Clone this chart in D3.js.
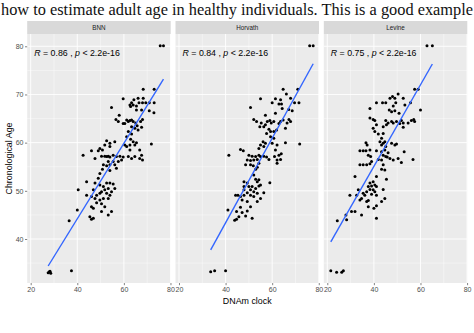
<!DOCTYPE html>
<html>
<head>
<meta charset="utf-8">
<script src="https://cdn.jsdelivr.net/npm/d3@7"></script>
<style>
  body { margin: 0; background: #fff; }
  svg { display: block; }
</style>
</head>
<body>
<div class="plot"></div>
<script>
// panel names and correlation labels
const panels = ["BNN", "Horvath", "Levine"];
const rValues = ["0.86", "0.84", "0.75"];
const pLabel = "2.2e-16";
const xTicks = [20, 40, 60, 80];
const xMinor = [30, 50, 70];
const yTicks = [40, 50, 60, 70, 80];
const yMinor = [35, 45, 55, 65, 75];

// [DNAm clock, chronological age]
const bnnPoints = [
  [68.3,71.1],[73.0,71.1],[66.1,69.2],[68.3,69.2],[64.3,68.9],[63.3,68.3],[66.5,68.3],[68.0,68.3],
  [69.4,68.3],[70.9,68.3],[62.6,67.8],[64.0,67.8],[65.4,67.6],[62.9,67.5],[73.0,68.3],[59.7,69.1],
  [54.7,67.3],[65.4,66.8],[67.6,66.8],[70.9,66.6],[72.9,66.2],[58.0,65.7],[56.6,64.8],[57.6,64.4],
  [68.0,64.8],[61.2,64.7],[61.9,64.4],[62.6,64.6],[63.3,64.7],[64.0,64.4],[65.1,64.1],[67.2,64.4],
  [65.7,63.5],[63.3,63.3],[59.7,64.0],[60.4,64.0],[64.7,63.0],[66.1,62.6],[67.6,63.2],[61.9,62.3],
  [63.3,61.8],[61.2,61.2],[62.9,60.7],[64.0,60.2],[65.4,60.0],[60.4,59.5],[62.6,59.5],[64.7,59.5],
  [66.8,58.5],[71.8,59.7],[67.6,57.4],[68.0,56.4],[62.6,58.5],[61.2,59.2],[56.1,60.2],[54.0,59.9],
  [52.6,60.4],[51.8,59.5],[54.0,59.2],[49.7,58.8],[50.8,58.5],[46.1,58.3],[49.0,58.3],[42.5,57.4],
  [47.6,56.7],[50.4,57.2],[51.8,57.2],[52.6,57.1],[53.3,57.2],[54.0,57.0],[55.4,57.4],[56.8,57.1],
  [58.3,57.2],[59.7,57.0],[61.9,57.1],[63.3,56.7],[64.7,57.1],[66.8,56.7],[53.3,56.1],[55.4,56.1],
  [57.6,56.1],[59.0,56.4],[51.2,55.4],[52.6,55.2],[54.0,55.4],[56.1,55.4],[56.8,54.7],[50.8,54.5],
  [54.0,54.2],[49.7,53.6],[49.0,52.6],[44.0,51.9],[47.6,51.6],[49.7,51.2],[51.2,50.9],[52.6,51.6],
  [54.0,51.6],[55.4,51.4],[56.1,50.5],[53.3,50.5],[51.8,50.2],[50.4,49.8],[54.7,49.8],[52.6,49.5],
  [49.7,49.5],[48.3,49.1],[46.9,50.2],[40.4,50.2],[44.0,49.1],[46.1,48.8],[47.6,48.4],[51.2,48.4],
  [53.3,48.4],[54.0,49.1],[49.7,48.1],[48.3,47.5],[46.1,46.7],[50.4,47.3],[51.8,46.7],[46.9,46.4],
  [40.0,46.0],[50.4,45.7],[54.7,45.7],[45.4,44.6],[46.1,44.1],[46.9,44.3],[53.3,45.0],[36.5,43.8],
  [75.6,80.1],[77.0,80.1],[27.5,33.0],[28.0,33.2],[28.6,32.9],[28.3,33.3],[37.5,33.4]
];

const horvathPoints = [
  [64.7,71.1],[66.1,70.1],[71.0,71.1],[67.9,69.2],[69.6,68.3],[71.5,68.3],[55.0,69.1],[61.4,69.1],
  [63.6,68.9],[60.0,68.3],[62.9,68.0],[64.0,68.0],[50.7,67.3],[64.3,67.1],[67.1,66.9],[68.6,66.6],
  [52.1,64.8],[53.3,64.4],[55.3,64.1],[57.1,65.7],[61.4,66.1],[57.9,64.4],[59.0,64.6],[59.6,64.1],
  [60.7,64.4],[57.1,63.7],[54.7,63.3],[56.4,63.3],[62.9,64.0],[63.6,64.4],[64.7,64.7],[67.2,64.8],
  [67.9,64.4],[66.4,64.1],[58.6,62.8],[59.3,62.3],[60.7,62.3],[61.9,62.6],[65.7,63.0],[57.6,61.9],
  [59.3,61.2],[60.7,60.9],[56.1,60.2],[57.1,59.9],[55.0,59.5],[56.4,59.2],[54.3,58.8],[60.0,59.9],
  [62.1,59.5],[65.7,60.0],[71.8,59.7],[46.4,58.6],[47.6,58.3],[41.4,57.4],[50.0,57.4],[51.4,57.2],
  [52.9,57.1],[54.3,57.4],[55.0,57.1],[56.4,57.2],[57.6,57.0],[58.6,56.5],[61.4,58.5],[62.9,57.4],
  [63.9,57.7],[61.0,57.1],[62.1,56.4],[49.3,56.4],[50.7,56.3],[52.1,56.4],[53.6,56.5],[48.6,55.4],
  [50.7,55.4],[51.9,55.2],[54.3,55.7],[53.6,54.9],[52.9,54.5],[63.6,56.5],[62.1,55.7],[52.1,53.3],
  [47.9,51.9],[49.3,51.6],[52.9,52.4],[53.6,51.9],[54.3,52.3],[59.0,51.7],[47.9,50.9],[50.0,50.9],
  [51.4,50.9],[52.9,50.5],[54.3,51.0],[55.0,51.2],[50.7,50.2],[52.1,49.8],[53.6,49.5],[47.9,50.2],
  [49.3,49.6],[56.4,49.6],[44.3,49.1],[45.3,49.1],[46.4,48.8],[47.9,49.1],[50.7,49.1],[52.1,48.8],
  [55.0,48.4],[47.1,48.1],[49.3,47.8],[53.6,47.8],[50.7,46.7],[46.4,46.6],[41.0,46.0],[44.7,45.7],
  [47.1,45.5],[49.3,45.8],[45.7,44.6],[48.6,44.8],[51.4,44.3],[43.9,43.9],[44.7,44.1],
  [76.1,80.1],[77.6,80.1],[33.6,33.2],[35.3,33.4],[40.0,33.4]
];

const levinePoints = [
  [57.5,71.1],[59.0,71.1],[50.4,70.1],[48.0,69.6],[49.0,69.2],[46.9,69.2],[52.6,69.2],[53.3,67.8],
  [55.7,68.3],[49.4,68.3],[48.3,67.6],[41.1,68.3],[43.7,68.3],[45.1,68.3],[60.0,66.8],[38.3,67.1],
  [46.6,66.8],[47.6,66.4],[49.0,66.6],[50.8,66.1],[39.7,64.8],[38.3,65.1],[40.4,64.6],[45.1,64.6],
  [46.1,64.1],[47.6,64.4],[48.3,64.1],[49.7,64.4],[51.8,64.6],[51.1,64.0],[52.6,64.1],[54.7,64.1],
  [56.1,64.6],[57.5,64.4],[57.1,64.8],[41.1,63.7],[39.7,63.0],[44.0,63.3],[45.4,63.7],[52.6,63.2],
  [40.4,62.3],[41.9,61.8],[44.0,61.9],[43.3,60.9],[42.6,60.2],[43.3,59.5],[44.0,59.9],[44.7,60.2],
  [36.6,60.0],[37.1,59.5],[45.1,59.2],[47.6,59.9],[49.0,59.5],[49.7,59.7],[34.0,58.3],[35.4,58.3],
  [36.6,58.3],[38.3,58.5],[41.1,58.3],[43.3,58.1],[44.7,58.5],[46.1,57.9],[37.6,57.4],[38.6,57.1],
  [44.0,57.4],[45.1,57.1],[45.7,57.0],[46.9,56.7],[48.3,56.4],[50.4,56.7],[53.0,58.1],[56.8,56.5],
  [51.8,55.9],[41.9,56.5],[43.3,56.4],[39.0,56.1],[34.0,55.4],[35.4,55.4],[36.9,55.4],[38.3,55.6],
  [44.0,55.4],[43.3,54.5],[44.7,54.3],[31.9,53.0],[41.1,53.0],[39.7,51.9],[38.3,51.6],[39.0,51.0],
  [40.4,51.2],[41.1,50.9],[37.6,50.9],[38.3,50.3],[39.7,50.2],[40.4,49.8],[36.9,49.8],[35.4,49.5],
  [36.1,49.1],[39.0,49.3],[41.1,49.1],[44.0,50.3],[45.4,52.4],[33.3,50.2],[32.6,49.1],[34.7,48.4],
  [34.0,48.1],[36.9,47.8],[37.6,48.0],[29.7,49.1],[30.4,45.7],[31.9,45.7],[34.7,45.0],[37.6,46.7],
  [40.0,46.4],[41.1,46.9],[43.3,47.8],[44.7,48.4],[41.1,44.3],[24.3,43.8],[28.0,45.0],[28.3,44.0],
  [62.8,80.1],[65.1,80.1],[21.5,33.4],[24.0,33.1],[26.2,33.1],[26.9,33.4]
];

const panelPoints = [bnnPoints, horvathPoints, levinePoints];

const width = 474, height = 333;
const sans = "'Liberation Sans', Arial, sans-serif";
const left0 = 27.2, panelW = 143.5, panelStep = 148.3;
const stripTop = 21, panelTop = 34, panelBottom = 283;

const svg = d3.select(".plot").append("svg")
  .attr("width", width)
  .attr("height", height);

// caption line of the page above the figure
svg.append("text")
  .attr("x", 1)
  .attr("y", 15)
  .attr("textLength", 472)
  .attr("lengthAdjust", "spacingAndGlyphs")
  .style("font-family", "'Liberation Serif', 'Times New Roman', serif")
  .style("font-size", "16.4px")
  .attr("fill", "#111")
  .text("how to estimate adult age in healthy individuals. This is a good example");

var x = d3.scaleLinear().domain([18.5, 80.1]).range([0, panelW]);
var y = d3.scaleLinear().domain([30.87, 82.55]).range([panelBottom - panelTop, 0]);
const ph = panelBottom - panelTop;

// least squares fit, like geom_smooth(method = "lm")
function fit(pts) {
  let mx = d3.mean(pts, d => d[0]), my = d3.mean(pts, d => d[1]);
  let sxy = d3.sum(pts, d => (d[0] - mx) * (d[1] - my));
  let sxx = d3.sum(pts, d => (d[0] - mx) * (d[0] - mx));
  let b = sxy / sxx;
  return {a: my - b * mx, b: b, x0: d3.min(pts, d => d[0]), x1: d3.max(pts, d => d[0])};
}

panels.forEach(function(name, i) {
  let px = left0 + i * panelStep;

  // strip
  svg.append("rect")
    .attr("x", px).attr("y", stripTop)
    .attr("width", panelW).attr("height", panelTop - stripTop)
    .attr("fill", "#D9D9D9");
  svg.append("text")
    .attr("x", px + panelW / 2).attr("y", 30)
    .attr("text-anchor", "middle")
    .style("font-family", sans).style("font-size", "6.3px")
    .attr("fill", "#1A1A1A")
    .text(name);

  let g = svg.append("g").attr("transform", "translate(" + px + "," + panelTop + ")");
  g.append("rect").attr("width", panelW).attr("height", ph).attr("fill", "#EBEBEB");

  // grid
  g.selectAll(".xminor").data(xMinor).enter().append("line")
    .attr("x1", d => x(d)).attr("x2", d => x(d)).attr("y1", 0).attr("y2", ph)
    .attr("stroke", "#fff").attr("stroke-width", 0.4);
  g.selectAll(".yminor").data(yMinor).enter().append("line")
    .attr("y1", d => y(d)).attr("y2", d => y(d)).attr("x1", 0).attr("x2", panelW)
    .attr("stroke", "#fff").attr("stroke-width", 0.4);
  g.selectAll(".xmajor").data(xTicks).enter().append("line")
    .attr("x1", d => x(d)).attr("x2", d => x(d)).attr("y1", 0).attr("y2", ph)
    .attr("stroke", "#fff").attr("stroke-width", 0.9);
  g.selectAll(".ymajor").data(yTicks).enter().append("line")
    .attr("y1", d => y(d)).attr("y2", d => y(d)).attr("x1", 0).attr("x2", panelW)
    .attr("stroke", "#fff").attr("stroke-width", 0.9);

  // x axis
  let xa = g.append("g")
    .attr("transform", "translate(0," + ph + ")")
    .call(d3.axisBottom(x).tickValues(xTicks).tickSize(2.2).tickPadding(1.5));
  xa.select(".domain").remove();
  xa.selectAll("line").attr("stroke", "#333").attr("stroke-width", 0.6);
  xa.selectAll("text").attr("fill", "#4D4D4D").style("font-family", sans).style("font-size", "7px");

  if (i == 0) {
    let ya = g.append("g")
      .call(d3.axisLeft(y).tickValues(yTicks).tickSize(2.2).tickPadding(1.5));
    ya.select(".domain").remove();
    ya.selectAll("line").attr("stroke", "#333").attr("stroke-width", 0.6);
    ya.selectAll("text").attr("fill", "#4D4D4D").style("font-family", sans).style("font-size", "7px");
  }

  // points
  g.append("g").selectAll("circle")
    .data(panelPoints[i])
    .enter()
    .append("circle")
      .attr("cx", d => x(d[0]))
      .attr("cy", d => y(d[1]))
      .attr("r", 1.5)
      .attr("fill", "#000");

  // regression line
  let f = fit(panelPoints[i]);
  g.append("line")
    .attr("x1", x(f.x0)).attr("y1", y(f.a + f.b * f.x0))
    .attr("x2", x(f.x1)).attr("y2", y(f.a + f.b * f.x1))
    .attr("stroke", "#3366FF").attr("stroke-width", 1.4);

  // R label
  let t = g.append("text")
    .attr("x", 7).attr("y", 22)
    .style("font-family", sans).style("font-size", "8.8px")
    .attr("fill", "#000");
  t.append("tspan").style("font-style", "italic").text("R");
  t.append("tspan").text(" = " + rValues[i] + " , ");
  t.append("tspan").style("font-style", "italic").text("p");
  t.append("tspan").text(" < " + pLabel);
});

// axis titles
svg.append("text")
  .attr("x", left0 + (2 * panelStep + panelW) / 2)
  .attr("y", 304)
  .attr("text-anchor", "middle")
  .style("font-family", sans).style("font-size", "8.9px")
  .attr("fill", "#000")
  .text("DNAm clock");

svg.append("text")
  .attr("transform", "translate(12.3," + (panelTop + ph / 2) + ") rotate(-90)")
  .attr("text-anchor", "middle")
  .style("font-family", sans).style("font-size", "8.9px")
  .attr("fill", "#000")
  .text("Chronological Age");
</script>
</body>
</html>
